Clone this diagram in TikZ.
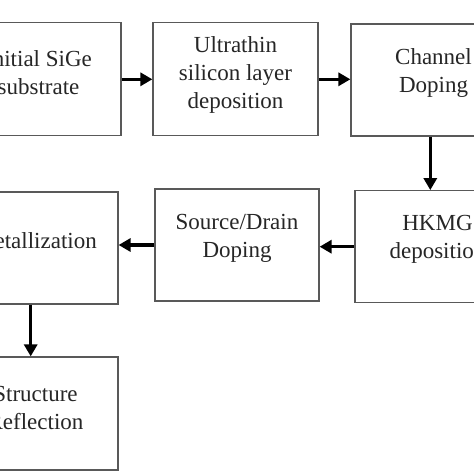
\documentclass[tikz,border=0pt]{standalone}
\usepackage{fontspec}
\setmainfont{Liberation Serif}
\usetikzlibrary{arrows.meta}
\begin{document}
\begin{tikzpicture}[x=1pt,y=-1pt,
  stepbox/.style={draw=black!65, line width=1.2pt, fill=white, minimum width=165pt, minimum height=113pt, inner sep=0pt},
  txt/.style={align=center, inner sep=0pt, text=black!85, font=\fontsize{23}{28}\selectfont},
  arr/.style={draw=black, line width=3.2pt, -{Triangle[length=12pt,width=13pt]}}]
\useasboundingbox (0,0) rectangle (474,474);
\fill[white] (0,0) rectangle (474,474);
\node[stepbox] (b1) at (38.5,79.3) {};
\node[stepbox] (b2) at (235.5,79.3) {};
\node[stepbox, minimum height=112pt] (b3) at (433.5,80) {};
\node[stepbox, minimum height=112pt] (b4) at (35.5,248) {};
\node[stepbox, minimum height=112pt, minimum width=164pt] (b5) at (237,245) {};
\node[stepbox, minimum height=112pt] (b6) at (437.5,246.7) {};
\node[stepbox] (b7) at (35.5,413.5) {};
\node[txt] (t1) at ([yshift=7pt]b1.center) {Initial SiGe\\substrate};
\node[txt] (t2) at ([yshift=4pt]b2.center) {Ultrathin\\silicon layer\\deposition};
\node[txt] (t3) at ([yshift=7pt]b3.center) {Channel\\Doping};
\node[txt] (t4) at ([yshift=7pt]b4.center) {Metallization};
\node[txt] (t5) at ([yshift=7pt]b5.center) {Source/Drain\\Doping};
\node[txt] (t6) at ([yshift=7pt]b6.center) {HKMG\\deposition};
\node[txt] (t7) at ([yshift=6pt]b7.center) {Structure\\Reflection};
\draw[arr] (b1.east) -- (b1.east -| b2.west);
\draw[arr] (b2.east) -- (b2.east -| b3.west);
\draw[arr] ([xshift=-3.2pt]b3.south) -- ([xshift=-3.2pt]b3.south |- b6.north);
\draw[arr] (b6.west) -- (b6.west -| b5.east);
\draw[arr] (b5.west) -- (b5.west -| b4.east);
\draw[arr] ([xshift=-4.8pt]b4.south) -- ([xshift=-4.8pt]b4.south |- b7.north);
\end{tikzpicture}
\end{document}
